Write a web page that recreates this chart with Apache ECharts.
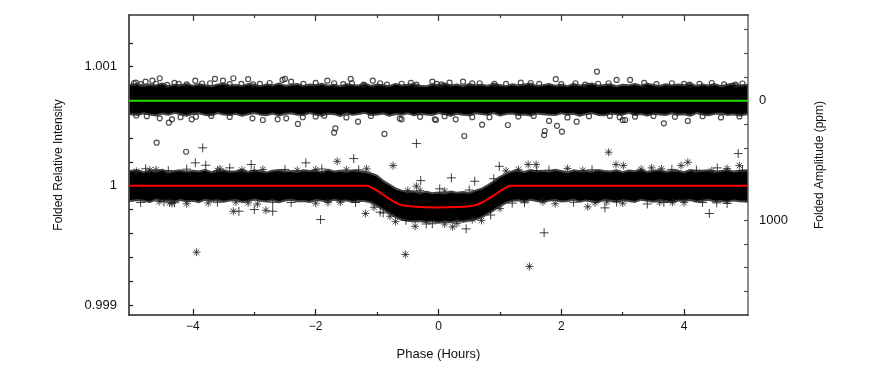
<!DOCTYPE html>
<html><head><meta charset="utf-8">
<script src="https://cdn.jsdelivr.net/npm/echarts@6/dist/echarts.min.js"></script>
<style>html,body{margin:0;padding:0;background:#fff}#c{width:873px;height:380px}</style>
</head><body><div id="c"></div>
<script>
// ---------- axis ranges and ticks ----------
const xRange = [-5.04, 5.04];
const xMajorTicks = [-4, -2, 0, 2, 4];
const xMinorTicks = [-3, -1, 1, 3];
const yLeftRange = [0.998916, 1.001434];
const yLeftTicks = [0.999, 0.9992, 0.9994, 0.9996, 0.9998, 1, 1.0002, 1.0004, 1.0006, 1.0008, 1.001, 1.0012];
const yLeftLabels = [0.999, 1, 1.001];
const yRightRange = [-718, 1796];
const yRightTicks = [-600, -400, -200, 0, 200, 400, 600, 800, 1000, 1200, 1400, 1600];
const yRightLabels = [0, 1000];

// ---------- dense-band envelopes (phase grid, hours) ----------
const bandX = [-5.04,-4.9,-4.8,-4.7,-4.6,-4.5,-4.4,-4.3,-4.2,-4.1,
 -4.0,-3.9,-3.8,-3.7,-3.6,-3.5,-3.4,-3.3,-3.2,-3.1,
 -3.0,-2.9,-2.8,-2.7,-2.6,-2.5,-2.4,-2.3,-2.2,-2.1,
 -2.0,-1.9,-1.8,-1.7,-1.6,-1.5,-1.4,-1.3,-1.2,-1.1,
 -1.0,-0.9,-0.8,-0.7,-0.6,-0.5,-0.4,-0.3,-0.2,-0.1,
 0,0.1,0.2,0.3,0.4,0.5,0.6,0.7,0.8,0.9,
 1.0,1.1,1.2,1.3,1.4,1.5,1.6,1.7,1.8,1.9,
 2.0,2.1,2.2,2.3,2.4,2.5,2.6,2.7,2.8,2.9,
 3.0,3.1,3.2,3.3,3.4,3.5,3.6,3.7,3.8,3.9,
 4.0,4.1,4.2,4.3,4.4,4.5,4.6,4.7,4.8,4.9,5.04];
// residuals band (ppm, right axis)
const resTop = [-132,-140,-125,-136,-128,-145,-122,-134,-130,-141,
 -126,-138,-129,-120,-135,-143,-127,-131,-124,-139,
 -133,-121,-137,-128,-144,-126,-132,-140,-123,-135,
 -129,-142,-125,-134,-120,-138,-131,-127,-145,-124,
 -136,-130,-122,-141,-128,-133,-139,-126,-121,-137,
 -132,-144,-127,-135,-123,-140,-129,-134,-125,-142,
 -131,-120,-138,-127,-136,-143,-124,-130,-139,-126,
 -133,-122,-141,-128,-135,-145,-125,-132,-137,-121,
 -134,-129,-140,-126,-143,-131,-123,-138,-127,-136,
 -130,-142,-124,-135,-128,-139,-121,-133,-144,-127,-134];
const resBot = [112,120,105,116,124,108,118,102,114,126,
 110,106,119,123,104,115,121,109,127,113,
 103,117,122,108,125,111,106,118,120,104,
 116,124,109,113,128,107,119,111,102,121,
 115,108,126,112,118,105,123,110,116,120,
 104,114,127,109,117,122,106,112,119,103,
 125,111,108,120,115,124,107,113,118,121,
 105,116,110,126,112,104,119,123,108,114,
 117,102,121,111,125,109,115,120,106,118,
 113,127,104,116,122,110,107,119,114,124,112];
// light-curve band (ppm from 1, left axis)
const lcTop = [125,132,115,128,120,136,112,124,130,118,
 127,121,134,114,126,131,119,123,135,116,
 129,122,113,127,133,120,125,117,131,124,
 128,115,136,121,126,118,130,123,118,105,
 85,42,10,-22,-40,-52,-45,-60,-50,-62,
 -55,-65,-48,-58,-52,-60,-40,-25,5,38,
 75,100,122,128,116,133,121,126,119,135,
 124,113,130,122,127,118,134,125,120,131,
 115,129,123,136,117,126,132,119,124,128,
 114,133,121,127,130,118,125,134,120,126,129];
const lcBot = [-130,-118,-126,-136,-115,-128,-122,-134,-119,-131,
 -125,-137,-116,-127,-121,-133,-124,-118,-135,-129,
 -114,-126,-132,-120,-138,-123,-117,-130,-127,-135,
 -119,-124,-133,-116,-128,-122,-136,-125,-128,-140,
 -168,-200,-232,-262,-285,-292,-300,-295,-305,-298,
 -310,-300,-306,-296,-302,-290,-282,-265,-235,-205,
 -170,-142,-126,-121,-133,-117,-128,-136,-124,-119,
 -131,-127,-115,-134,-122,-129,-137,-118,-125,-132,
 -120,-128,-135,-116,-126,-133,-121,-130,-138,-123,
 -127,-119,-134,-125,-117,-131,-128,-136,-122,-129,-133];

// ---------- individual points ----------
// residual circles [phase h, ppm]
const resCircles = [[-4.93,-151],[-4.66,-168],[-4.54,-188],[-3.96,-168],[-3.64,-182],[-3.34,-188],[-3.10,-180],[-2.50,-182],[-1.81,-168],[-1.43,-182],[-1.07,-168],[-0.10,-159],[2.58,-243],[3.12,-174],
 [-4.96,-146],[-4.77,-159],[-4.42,-132],[-4.23,-140],[-3.72,-146],[-3.51,-168],[-3.21,-140],[-3.02,-136],[-2.91,-140],[-2.54,-174],[-2.40,-159],[-1.70,-146],[-1.41,-146],[-1.22,-134],[-0.84,-134],[-0.36,-134],[-0.03,-140],[0.18,-151],[0.40,-159],[0.67,-146],[0.91,-140],[1.34,-151],[1.64,-140],[1.91,-180],[2.23,-146],[2.39,-134],[2.77,-146],[2.90,-174],[4.09,-134],[4.25,-140],[4.84,-134],
 [-4.85,-138],[-4.6,-142],[-4.3,-150],[-4.1,-136],[-3.85,-144],[-3.4,-139],[-2.75,-148],[-2.2,-140],[-2.0,-150],[-1.55,-138],[-0.95,-146],[-0.6,-142],[-0.45,-150],[0.05,-137],[0.55,-145],[1.1,-140],[1.5,-148],[2.0,-138],[2.6,-142],[3.35,-150],[3.55,-138],[3.8,-146],[4.0,-140],[4.45,-148],[4.65,-136],[4.95,-144],
 [-4.54,148],[-4.39,184],[-4.34,156],[-4.02,156],[-3.95,134],[-3.03,148],[-2.86,162],[-2.62,156],[-2.48,148],[-2.21,139],[-2.29,195],[-1.86,126],[-1.70,268],[-1.68,232],[-1.31,176],[-0.88,279],[-0.63,150],[-0.60,156],[-0.06,156],[-0.04,162],[0.28,156],[0.42,296],[0.71,201],[0.83,139],[1.13,204],[1.72,288],[1.73,254],[1.80,170],[1.93,211],[2.01,260],[2.25,176],[2.79,128],[3.0,162],[3.04,162],[3.20,134],[3.67,190],[4.06,170],[-4.92,124],[-4.59,352],[-4.11,428],
 [-4.75,130],[-4.2,138],[-3.7,128],[-3.4,136],[-2.0,132],[-1.5,140],[-1.1,128],[-0.3,135],[0.1,130],[0.55,138],[1.3,132],[1.55,128],[2.1,140],[2.45,130],[2.95,138],[3.5,128],[3.85,135],[4.3,130],[4.6,140],[4.9,132]];
// light-curve "+" points [phase h, ppm from 1]
const lcPlus = [[-3.84,319],[-3.96,193],[-3.79,173],[-3.05,179],[-3.25,-213],[-3.0,-199],[-2.70,-213],[-4.77,143],[-4.47,-135],[-3.40,151],[4.88,271],[4.54,151],[4.41,-232],[2.71,-185],[4.53,-143],[3.67,-140],[-2.16,193],[-1.38,229],[-1.92,-283],[-0.95,-221],[-0.53,-289],[-0.29,44],[0.21,67],[0.02,-25],[0.45,-361],[0.59,39],[0.99,164],[1.72,-394],[-0.36,355],
 [-4.1,140],[-2.5,138],[-1.9,142],[1.8,132],[2.5,135],[4.2,132],[-4.85,-140],[-3.6,-138],[-2.4,-140],[1.4,-142],[2.2,-138],[3.4,-152],[4.7,-148],[-0.2,-320],[0.5,-35],
 [-4.4,128],[-3.0,130],[-1.3,134],[1.6,128],[3.8,138],[4.95,130],[-4.3,-142],[-2.7,-138],[-1.35,-140],[1.2,-145],[2.9,-136],[4.3,-140],[-0.9,-228],[0.85,-245],[-0.1,-318],[0.9,60]];
// light-curve "*" points [phase h, ppm from 1]
const lcStar = [[-3.94,-557],[-2.81,-205],[-3.34,-213],[-4.92,122],[-4.34,-148],[-4.38,-143],[-3.75,-143],[-2.86,137],[-3.56,143],[-3.10,-143],[2.77,282],[2.89,179],[3.01,170],[4.06,198],[3.95,170],[4.90,170],[3.63,143],[3.47,151],[3.81,-138],[2.74,-135],[-1.65,206],[-1.17,143],[-0.74,170],[-1.19,-232],[-0.79,-255],[-0.38,-339],[0.23,-344],[0.55,-283],[1.46,179],[1.59,179],[2.43,-176],[1.48,-677],[-0.54,-576],[-0.36,-3],
 [-4.6,135],[-3.2,132],[-2.3,130],[-1.5,135],[1.3,138],[2.1,145],[3.3,140],[4.7,145],[-4.1,-150],[-2.95,-152],[-2.0,-145],[-1.6,-138],[1.9,-150],[3.0,-145],[4.0,-140],[-0.7,-300],[0.3,-315],[0.7,-290],[-0.5,-40],[0.1,-45],
 [-4.7,132],[-3.6,128],[-2.0,136],[1.1,125],[2.35,130],[4.45,128],[-4.55,-132],[-3.3,-136],[-1.8,-140],[1.7,-134],[2.55,-142],[3.6,-136],[-1.05,-180],[1.0,-190],[0.1,-320],[-0.3,-40]];

// ---------- model lines ----------
const zeroLine = [[-5.04,0],[5.04,0]];
const modelX   = [-5.04,-1.17,-1.1,-1.0,-0.9,-0.8,-0.7,-0.62,-0.5,-0.3,0,0.3,0.5,0.6,0.7,0.8,0.9,1.0,1.1,1.17,5.04];
const modelPpm = [0,0,-12,-40,-75,-110,-140,-160,-170,-177,-181,-178,-172,-162,-142,-112,-80,-45,-15,0,0];

// ---------- build ----------
const toI = p => 1 + p / 1e6;
const FONT = 'Liberation Sans';
const PLUS = 'path://M0,5L10,5M5,0L5,10';
const STAR = 'path://M0,5L10,5M5,0L5,10M1.5,1.5L8.5,8.5M1.5,8.5L8.5,1.5';

function band(xs, top, bot, yIdx, conv) {
  return {
    type: 'custom', xAxisIndex: 0, yAxisIndex: yIdx, clip: true, silent: true, z: 1,
    data: [[xs[0], conv(0)]],
    renderItem: (params, api) => {
      const pts = [];
      for (let i = 0; i < xs.length; i++) pts.push(api.coord([xs[i], conv(top[i])]));
      for (let i = xs.length - 1; i >= 0; i--) pts.push(api.coord([xs[i], conv(bot[i])]));
      return { type: 'polygon', shape: { points: pts },
        style: { fill: '#000', stroke: '#444', lineWidth: 2, lineJoin: 'round' } };
    }
  };
}
const id = v => v;

const tickBase = (vals, len, color) => ({ show: true, inside: true, length: len, customValues: vals, lineStyle: { color: color, width: 1.2 } });

const option = {
  animation: false,
  backgroundColor: '#fff',
  grid: { left: 129, right: 125, top: 15, bottom: 65, containLabel: false },
  xAxis: [
    { type: 'value', position: 'bottom', min: xRange[0], max: xRange[1],
      axisLine: { show: true, onZero: false, lineStyle: { color: '#222', width: 1.5 } },
      axisTick: tickBase(xMajorTicks, 6, '#222'),
      axisLabel: { customValues: xMajorTicks, margin: 6, color: '#111', fontFamily: FONT, fontSize: 12,
        formatter: v => String(v).replace('-', '\u2212') },
      splitLine: { show: false },
      name: 'Phase (Hours)', nameLocation: 'middle', nameGap: 33,
      nameTextStyle: { color: '#111', fontFamily: FONT, fontSize: 13 } },
    { type: 'value', position: 'bottom', min: xRange[0], max: xRange[1],
      axisLine: { show: false, onZero: false }, axisTick: tickBase(xMinorTicks, 3, '#222'),
      axisLabel: { show: false }, splitLine: { show: false } },
    { type: 'value', position: 'top', min: xRange[0], max: xRange[1],
      axisLine: { show: true, onZero: false, lineStyle: { color: '#333', width: 1.5 } },
      axisTick: tickBase(xMajorTicks, 6, '#333'),
      axisLabel: { show: false }, splitLine: { show: false } },
    { type: 'value', position: 'top', min: xRange[0], max: xRange[1],
      axisLine: { show: false, onZero: false }, axisTick: tickBase(xMinorTicks, 3, '#333'),
      axisLabel: { show: false }, splitLine: { show: false } }
  ],
  yAxis: [
    { type: 'value', position: 'left', min: yLeftRange[0], max: yLeftRange[1],
      axisLine: { show: true, onZero: false, lineStyle: { color: '#222', width: 1.5 } },
      axisTick: tickBase(yLeftTicks, 4, '#222'),
      axisLabel: { customValues: yLeftLabels, margin: 12, color: '#111', fontFamily: FONT, fontSize: 13,
        formatter: v => String(Number(v.toFixed(4))) },
      splitLine: { show: false },
      name: 'Folded Relative Intensity', nameLocation: 'middle', nameGap: 64, nameRotate: 90,
      nameTextStyle: { color: '#111', fontFamily: FONT, fontSize: 12 } },
    { type: 'value', position: 'right', inverse: true, min: yRightRange[0], max: yRightRange[1],
      axisLine: { show: true, onZero: false, lineStyle: { color: '#666', width: 1.5 } },
      axisTick: tickBase(yRightTicks, 4, '#555'),
      axisLabel: { customValues: yRightLabels, margin: 11, color: '#111', fontFamily: FONT, fontSize: 13,
        formatter: v => String(v) },
      splitLine: { show: false },
      name: 'Folded Amplitude (ppm)', nameLocation: 'middle', nameGap: 66, nameRotate: 90,
      nameTextStyle: { color: '#111', fontFamily: FONT, fontSize: 12 } }
  ],
  series: [
    band(bandX, resTop, resBot, 1, id),
    band(bandX, lcTop, lcBot, 0, toI),
    { type: 'scatter', xAxisIndex: 0, yAxisIndex: 1, z: 2, silent: true,
      symbol: 'circle', symbolSize: 5, data: resCircles,
      itemStyle: { color: 'rgba(0,0,0,0)', borderColor: '#222', borderWidth: 1.2 } },
    { type: 'scatter', xAxisIndex: 0, yAxisIndex: 0, z: 2, silent: true,
      symbol: PLUS, symbolSize: 9, data: lcPlus.map(p => [p[0], toI(p[1])]),
      itemStyle: { color: 'rgba(0,0,0,0)', borderColor: '#111', borderWidth: 1 } },
    { type: 'scatter', xAxisIndex: 0, yAxisIndex: 0, z: 2, silent: true,
      symbol: STAR, symbolSize: 8, data: lcStar.map(p => [p[0], toI(p[1])]),
      itemStyle: { color: 'rgba(0,0,0,0)', borderColor: '#222', borderWidth: 1 } },
    { type: 'line', xAxisIndex: 0, yAxisIndex: 1, z: 5, silent: true, symbol: 'none',
      data: zeroLine, lineStyle: { color: '#22dd00', width: 2 } },
    { type: 'line', xAxisIndex: 0, yAxisIndex: 0, z: 5, silent: true, symbol: 'none', smooth: 0.3,
      data: modelX.map((x, i) => [x, toI(modelPpm[i])]), lineStyle: { color: '#ff0000', width: 2 } }
  ]
};
const chart = echarts.init(document.getElementById('c'), null, { renderer: 'canvas' });
chart.setOption(option);
</script></body></html>
